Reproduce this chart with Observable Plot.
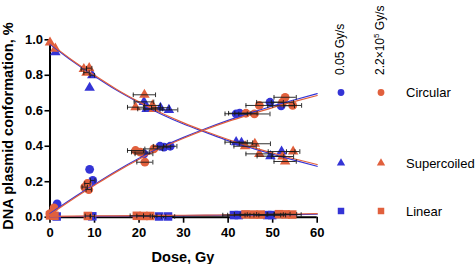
<!DOCTYPE html>
<html><head><meta charset="utf-8">
<script src="https://cdn.jsdelivr.net/npm/d3@7"></script>
<script src="https://cdn.jsdelivr.net/npm/@observablehq/plot@0.6"></script>
<style>
body{margin:0;background:#fff;}
#wrap{position:relative;width:475px;height:264px;overflow:hidden;}
#wrap svg{display:block;}
</style></head><body><div id="wrap"></div>
<script>
const BLUE = "#3434D6", RED = "#E1603D";
const rates = ["0.05 Gy/s", "2.2e5 Gy/s"];
const confs = ["Circular", "Supercoiled", "Linear"];
const xTicks = [0, 10, 20, 30, 40, 50, 60];
const yTicks = [0, 0.2, 0.4, 0.6, 0.8, 1.0];
const xTitle = "Dose, Gy";
const yTitle = "DNA plasmid conformation, %";

// Supercoiled, 0.05 Gy/s
const supBlueDose = [1.2, 8.9, 9.5, 21.1, 21.7, 24.8, 26.7, 41.8, 43.0, 49.5, 52.0];
const supBlueVal  = [0.93, 0.73, 0.80, 0.65, 0.61, 0.617, 0.605, 0.423, 0.42, 0.344, 0.37];
const supBlueErr  = [0.3, 0.3, 0.5, 2.2, 2.0, 2.0, 2.0, 2.5, 2.5, 3.0, 3.0];
// Supercoiled, 2.2e5 Gy/s
const supRedDose = [0, 1.2, 7.6, 8.2, 8.8, 19.2, 21.2, 23.0, 23.3, 43.8, 46.0, 47.0, 52.2, 52.8, 54.6];
const supRedVal  = [0.985, 0.95, 0.835, 0.815, 0.84, 0.62, 0.69, 0.63, 0.61, 0.40, 0.414, 0.357, 0.342, 0.314, 0.37];
const supRedErr  = [0, 0.3, 0.6, 0.6, 0.6, 1.8, 2.5, 1.8, 2.0, 2.5, 3.5, 3.0, 2.5, 2.5, 1.5];
// Circular, 0.05 Gy/s
const cirBlueDose = [1.6, 8.9, 9.6, 21.1, 24.7, 25.6, 27.0, 41.8, 42.6, 49.4, 51.9];
const cirBlueVal  = [0.075, 0.27, 0.207, 0.357, 0.40, 0.395, 0.40, 0.583, 0.586, 0.648, 0.628];
const cirBlueErr  = [0.3, 0.3, 0.5, 2.0, 1.5, 1.5, 1.5, 2.5, 2.5, 3.0, 3.0];
// Circular, 2.2e5 Gy/s
const cirRedDose = [0, 0.9, 7.8, 8.4, 8.7, 19.2, 20.3, 21.3, 23.3, 44.0, 45.9, 47.0, 52.2, 52.8, 54.5];
const cirRedVal  = [0.02, 0.053, 0.17, 0.19, 0.156, 0.376, 0.367, 0.31, 0.385, 0.586, 0.582, 0.63, 0.648, 0.676, 0.63];
const cirRedErr  = [0, 0.3, 0.6, 0.6, 0.6, 1.8, 2.0, 1.8, 2.0, 2.5, 3.5, 3.0, 2.5, 2.5, 2.0];
// Linear, 0.05 Gy/s
const linBlueDose = [1.5, 9.5, 24.5, 26.5, 41.3, 42.4, 48.8, 49.9];
const linBlueVal  = [0.004, 0.005, 0.004, 0.004, 0.012, 0.012, 0.012, 0.012];
const linBlueErr  = [0.3, 0.5, 1.5, 1.5, 2.5, 2.5, 3.0, 3.0];
// Linear, 2.2e5 Gy/s
const linRedDose = [0, 1.0, 8.5, 19.5, 21.0, 22.5, 43.9, 45.7, 47.3, 51.4, 52.9, 54.4];
const linRedVal  = [0.01, 0.008, 0.007, 0.008, 0.007, 0.007, 0.016, 0.015, 0.015, 0.017, 0.016, 0.015];
const linRedErr  = [0, 0.3, 0.6, 1.5, 1.5, 1.5, 2.5, 3.0, 3.0, 2.5, 2.5, 2.0];

// Fitted curves
const fitDose = [0, 5, 10, 15, 20, 25, 30, 35, 40, 45, 50, 55, 60];
const fitSupBlue = [0.975, 0.88, 0.795, 0.715, 0.645, 0.58, 0.525, 0.478, 0.432, 0.392, 0.355, 0.32, 0.287];
const fitSupRed  = [0.98, 0.885, 0.80, 0.72, 0.65, 0.587, 0.532, 0.483, 0.438, 0.398, 0.362, 0.328, 0.297];
const fitCirBlue = [0.02, 0.105, 0.185, 0.262, 0.332, 0.395, 0.45, 0.5, 0.546, 0.588, 0.627, 0.662, 0.697];
const fitCirRed  = [0.015, 0.10, 0.18, 0.257, 0.327, 0.39, 0.445, 0.495, 0.54, 0.58, 0.618, 0.653, 0.686];
const fitLinBlue = [0.003, 0.004, 0.005, 0.006, 0.007, 0.008, 0.009, 0.010, 0.011, 0.012, 0.014, 0.015, 0.017];
const fitLinRed  = [0.005, 0.006, 0.007, 0.008, 0.009, 0.010, 0.011, 0.012, 0.013, 0.014, 0.016, 0.018, 0.020];

const rows = (dose, val, err, conf, rate) => dose.map((d, i) => ({dose: d, v: val[i], xe: err[i], conf, rate}));
const pts = [
  ...rows(supBlueDose, supBlueVal, supBlueErr, "Supercoiled", rates[0]),
  ...rows(supRedDose, supRedVal, supRedErr, "Supercoiled", rates[1]),
  ...rows(cirBlueDose, cirBlueVal, cirBlueErr, "Circular", rates[0]),
  ...rows(cirRedDose, cirRedVal, cirRedErr, "Circular", rates[1]),
  ...rows(linBlueDose, linBlueVal, linBlueErr, "Linear", rates[0]),
  ...rows(linRedDose, linRedVal, linRedErr, "Linear", rates[1])
];
const fitRows = (vals, conf, rate) => fitDose.map((d, i) => ({dose: d, v: vals[i], key: conf + rate, rate}));
const fits = [
  ...fitRows(fitSupBlue, "S", rates[0]), ...fitRows(fitCirBlue, "C", rates[0]), ...fitRows(fitLinBlue, "L", rates[0]),
  ...fitRows(fitSupRed, "S", rates[1]), ...fitRows(fitCirRed, "C", rates[1]), ...fitRows(fitLinRed, "L", rates[1])
];

const vbar = {draw(ctx, size) { const h = Math.sqrt(size) / 2; ctx.moveTo(0, -h); ctx.lineTo(0, h); }};
const symR = {Circular: 4.4, Supercoiled: 3.9, Linear: 4.8};
const symOf = {Circular: "circle", Supercoiled: "triangle", Linear: "square"};
const withErr = pts.filter(d => d.xe > 0.4);
const FONT = "'Liberation Sans', Arial, Helvetica, sans-serif";

const chart = Plot.plot({
  width: 475, height: 264,
  marginLeft: 49.5, marginRight: 158.3, marginTop: 39.3, marginBottom: 47.3,
  style: {fontFamily: FONT, background: "white", overflow: "visible"},
  x: {domain: [0, 60]},
  y: {domain: [0, 1]},
  color: {domain: rates, range: [BLUE, RED]},
  marks: [
    Plot.ruleX([0], {stroke: "black", strokeWidth: 2}),
    Plot.ruleY([0], {stroke: "black", strokeWidth: 2}),
    Plot.axisX({ticks: xTicks, tickSize: 6, tickPadding: 5, fontSize: 13, fontWeight: "bold", strokeWidth: 1.6, label: null, fill: "black"}),
    Plot.axisY({ticks: yTicks, tickFormat: d => d.toFixed(1), tickSize: 5, tickPadding: 2, fontSize: 13, fontWeight: "bold", strokeWidth: 1.6, label: null, fill: "black"}),
    ...confs.map(c => Plot.dot(pts.filter(d => d.conf === c), {x: "dose", y: "v", fill: "rate", symbol: symOf[c], r: symR[c], stroke: "none"})),
    Plot.line(fits, {x: "dose", y: "v", z: "key", stroke: "rate", curve: "monotone-x", strokeWidth: 1.2}),
    Plot.ruleY(withErr, {y: "v", x1: d => d.dose - d.xe, x2: d => d.dose + d.xe, stroke: "#1a1a1a", strokeWidth: 0.9}),
    Plot.dot(withErr, {x: d => d.dose - d.xe, y: "v", symbol: vbar, r: 2.6, stroke: "#1a1a1a", strokeWidth: 0.9, fill: "none"}),
    Plot.dot(withErr, {x: d => d.dose + d.xe, y: "v", symbol: vbar, r: 2.6, stroke: "#1a1a1a", strokeWidth: 0.9, fill: "none"})
  ]
});
const wrap = document.getElementById("wrap");
wrap.appendChild(chart);

// Overlay: axis titles and legend
const leg = d3.create("svg").attr("width", 475).attr("height", 264)
  .style("position", "absolute").style("left", "0px").style("top", "0px")
  .style("font-family", FONT);
leg.append("text").attr("transform", "translate(8,126) rotate(-90)")
  .attr("text-anchor", "middle").attr("dominant-baseline", "central")
  .attr("font-size", 14.5).attr("font-weight", "bold").attr("fill", "black").text(yTitle);
leg.append("text").attr("x", 183).attr("y", 261.5).attr("text-anchor", "middle")
  .attr("font-size", 14.5).attr("font-weight", "bold").attr("fill", "black").text(xTitle);

const legHeaders = [{x: 340, parts: [["0.05 Gy/s", false]]}, {x: 380, parts: [["2.2×10", false], ["5", true], [" Gy/s", false]]}];
const legRows = [{conf: "Circular", y: 92.5}, {conf: "Supercoiled", y: 163}, {conf: "Linear", y: 211}];
const legColors = [BLUE, RED];
const legSym = {Circular: d3.symbolCircle, Supercoiled: d3.symbolTriangle, Linear: d3.symbolSquare};
const legSize = {Circular: 36, Supercoiled: 30, Linear: 42};
legHeaders.forEach(h => {
  const t = leg.append("text").attr("transform", `translate(${h.x},75) rotate(-90)`)
    .attr("dominant-baseline", "central").attr("font-size", 12).attr("fill", "black");
  h.parts.forEach(([s, sup]) => {
    const ts = t.append("tspan").text(s);
    if (sup) ts.attr("font-size", 8).attr("dy", "-0.5em");
    else if (s.startsWith(" ")) ts.attr("dy", "0.33em");
  });
});
legRows.forEach(r => {
  legHeaders.forEach((h, i) => {
    leg.append("path").attr("transform", `translate(${h.x + 1},${r.y})`)
      .attr("d", d3.symbol(legSym[r.conf], legSize[r.conf])()).attr("fill", legColors[i]);
  });
  leg.append("text").attr("x", 406).attr("y", r.y).attr("dominant-baseline", "central")
    .attr("font-size", 13).attr("fill", "black").text(r.conf);
});
wrap.appendChild(leg.node());
</script>
</body></html>
